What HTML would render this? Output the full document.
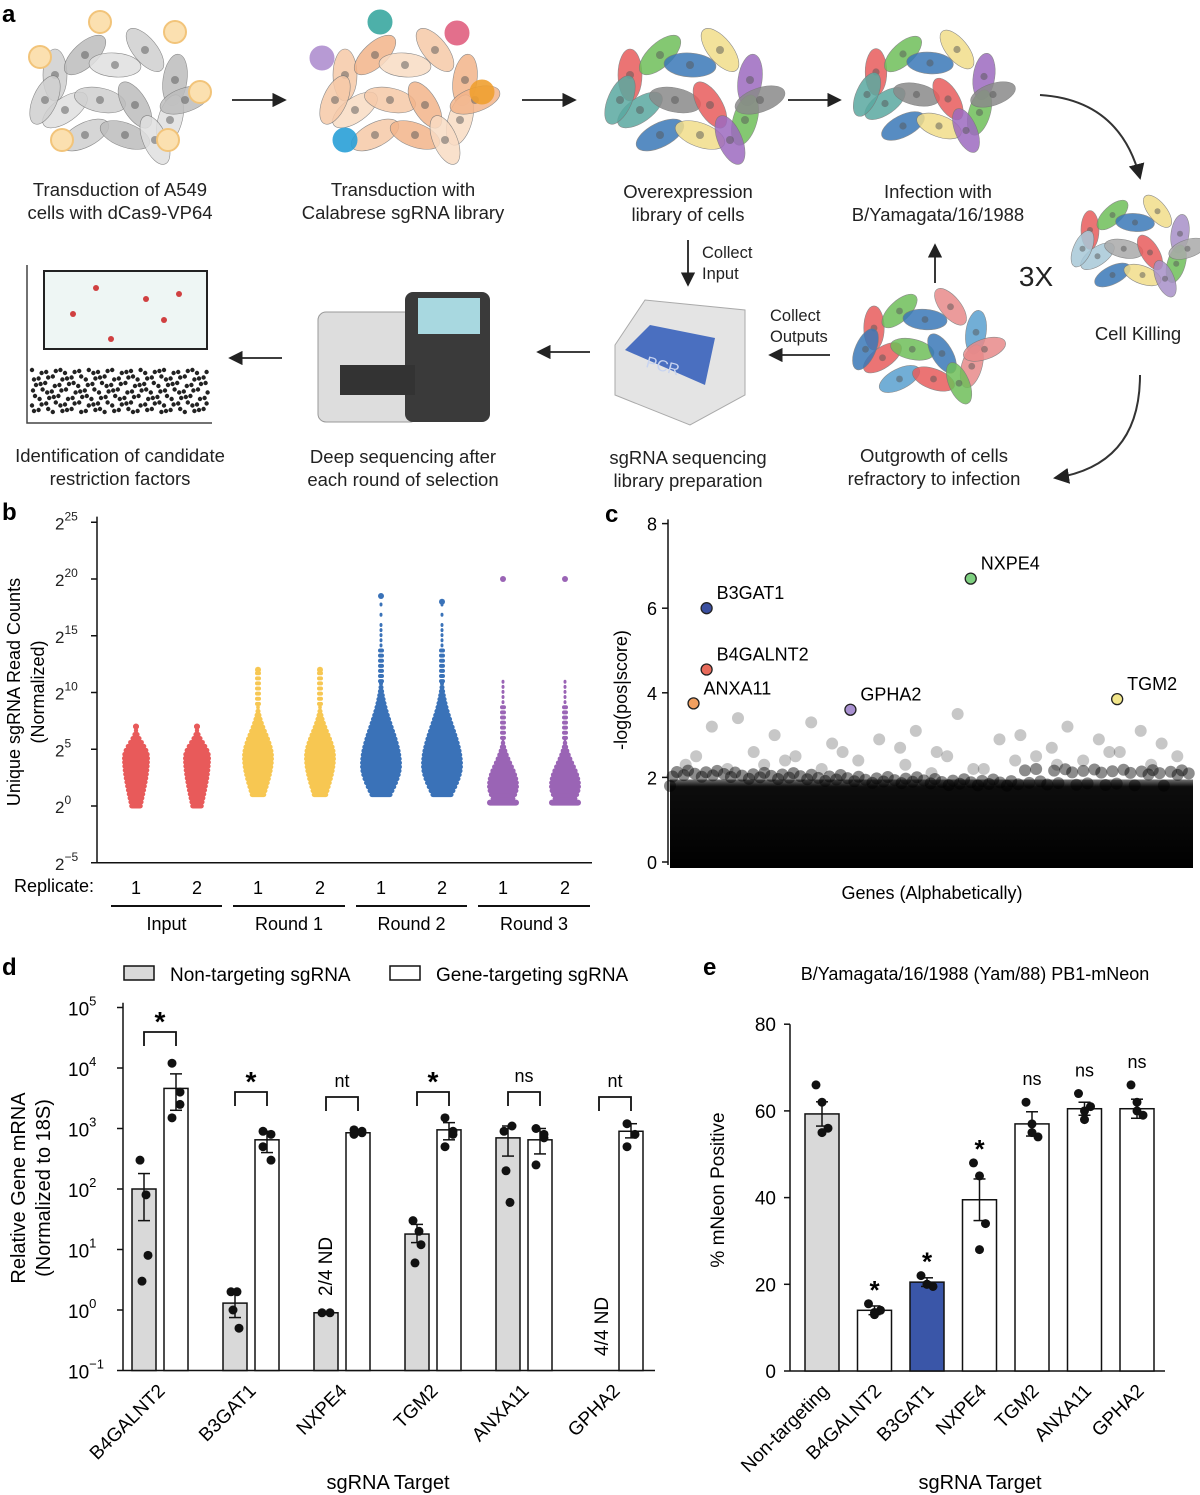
<!DOCTYPE html>
<html><head><meta charset="utf-8">
<style>
body{margin:0;background:#fff;}
svg{display:block;font-family:"Liberation Sans",Arial,sans-serif;}
</style></head>
<body>
<svg id="fig" width="1200" height="1495" viewBox="0 0 1200 1495" xmlns="http://www.w3.org/2000/svg">
<defs>
<marker id="ah" markerWidth="8" markerHeight="8" refX="7" refY="4" orient="auto"><path d="M0,0 L8,4 L0,8 z" fill="#222"/></marker>
<linearGradient id="band" x1="0" y1="0" x2="0" y2="1"><stop offset="0" stop-color="#000" stop-opacity="0.55"/><stop offset="0.08" stop-color="#000" stop-opacity="0.95"/><stop offset="1" stop-color="#000"/></linearGradient>
</defs>
<g id="panelA"></g>
<g id="panelB"></g>
<g id="panelC"></g>
<g id="panelD"></g>
<g id="panelE"></g>
</svg>
<script>
const NS="http://www.w3.org/2000/svg";
function mk(p,tag,a,txt){const e=document.createElementNS(NS,tag);for(const k in a)e.setAttribute(k,a[k]);if(txt!==undefined)e.textContent=txt;p.appendChild(e);return e;}

/* ---------- Panel A ---------- */
const A=document.getElementById('panelA');
let t=mk(A,'text',{x:2,y:22,'font-size':24,'font-weight':'bold'},'a');


function cluster(cx,cy,cols,r){
  const g=mk(A,'g',{});
  
  
  const offs=[[-60,-20],[-30,-40],[0,-30],[30,-45],[60,-15],[-50,15],[-15,5],[20,10],[55,25],[-30,40],[10,40],[40,45],[-70,5],[70,5]];
  offs.forEach((o,i)=>{const c=cols[i%cols.length];mk(g,'ellipse',{cx:cx+o[0]*r,cy:cy+o[1]*r,rx:26*r,ry:12*r,fill:c,opacity:0.85,stroke:'#777','stroke-width':0.6,transform:`rotate(${(i*47)%180-90} ${cx+o[0]*r} ${cy+o[1]*r})`});
  mk(g,'circle',{cx:cx+o[0]*r,cy:cy+o[1]*r,r:4*r,fill:'#555',opacity:0.5});});
}
cluster(115,95,['#cfcfcf','#bdbdbd','#e0e0e0'],1);
cluster(405,95,['#f6c9a8','#f3b48a','#f9dcc4'],1);
cluster(690,95,['#e85c5c','#6fbf5a','#3a78b8','#f2dd8a','#9d6ac0','#5aa9a0','#8a8a8a'],1);
cluster(930,90,['#e85c5c','#6fbf5a','#3a78b8','#f2dd8a','#9d6ac0','#5aa9a0','#8a8a8a'],0.9);
cluster(1135,245,['#e85c5c','#6fbf5a','#3a78b8','#f2dd8a','#a890c8','#a8c8d8','#aaa'],0.75);
cluster(925,345,['#e85c5c','#6fbf5a','#3a78b8','#e88a8a','#5aa0d0'],0.85);
[[40,57],[100,22],[175,32],[200,92],[62,140],[168,140]].forEach(p=>mk(A,'circle',{cx:p[0],cy:p[1],r:11,fill:'#fbe0b0',stroke:'#f2c47a','stroke-width':2}));
[[380,22,'#3aa8a0'],[457,33,'#e06080'],[322,58,'#b090d0'],[482,92,'#f0a030'],[345,140,'#2aa0d8']].forEach(p=>mk(A,'circle',{cx:p[0],cy:p[1],r:11,fill:p[2],stroke:p[2],'stroke-width':3,opacity:0.9}));
[[232,100,285,100],[522,100,575,100],[788,100,840,100],[688,240,688,285],[935,283,935,245],[830,355,770,355],[590,352,538,352],[282,358,230,358]].forEach(a=>mk(A,'line',{x1:a[0],y1:a[1],x2:a[2],y2:a[3],stroke:'#222','stroke-width':1.8,'marker-end':'url(#ah)'}));
mk(A,'path',{d:'M1040,95 Q1120,100 1140,178',fill:'none',stroke:'#333','stroke-width':2,'marker-end':'url(#ah)'});
mk(A,'path',{d:'M1140,375 Q1140,465 1055,478',fill:'none',stroke:'#333','stroke-width':2,'marker-end':'url(#ah)'});
mk(A,'rect',{x:44,y:271,width:163,height:78,fill:'#eef6f4',stroke:'#222','stroke-width':2});
mk(A,'polyline',{points:'27,265 27,423 212,423',fill:'none',stroke:'#444','stroke-width':1.5});
[[96,288],[146,299],[179,294],[73,314],[164,320],[111,339]].forEach(p=>mk(A,'circle',{cx:p[0],cy:p[1],r:3,fill:'#d04040'}));
for(let r=0;r<7;r++)for(let c=0;c<27;c++)mk(A,'circle',{cx:34+c*6.6+((r*37+c*13)%5)-2,cy:372+r*6.5+((c*7+r*3)%4)-2,r:2.2,fill:'#222'});
mk(A,'rect',{x:318,y:312,width:100,height:110,rx:8,fill:'#ddd',stroke:'#999'});
mk(A,'rect',{x:405,y:292,width:85,height:130,rx:8,fill:'#3a3a3a'});
mk(A,'rect',{x:418,y:298,width:62,height:36,fill:'#a8d8e0'});
mk(A,'rect',{x:340,y:365,width:75,height:30,fill:'#333'});
mk(A,'path',{d:'M615,345 L645,300 L745,310 L745,395 L690,425 L615,395 z',fill:'#e4e4e4',stroke:'#aaa'});
mk(A,'path',{d:'M625,350 L650,325 L715,338 L705,385 z',fill:'#4a6fc0'});
mk(A,'text',{x:645,y:372,'font-size':16,fill:'#c8d4f0',transform:'rotate(15 665 370)'},'PCR');
const al=[[120,196,'Transduction of A549'],[120,219,'cells with dCas9-VP64'],[403,196,'Transduction with'],[403,219,'Calabrese sgRNA library'],[688,198,'Overexpression'],[688,221,'library of cells'],[938,198,'Infection with'],[938,221,'B/Yamagata/16/1988'],[1138,340,'Cell Killing'],[120,462,'Identification of candidate'],[120,485,'restriction factors'],[403,463,'Deep sequencing after'],[403,486,'each round of selection'],[688,464,'sgRNA sequencing'],[688,487,'library preparation'],[934,462,'Outgrowth of cells'],[934,485,'refractory to infection']];
al.forEach(l=>{const e=mk(A,'text',{x:l[0],y:l[1],'font-size':18.5,'text-anchor':'middle',fill:'#222'},l[2]);});
[[702,258,'Collect'],[702,279,'Input'],[770,321,'Collect'],[770,342,'Outputs']].forEach(l=>mk(A,'text',{x:l[0],y:l[1],'font-size':16.5,fill:'#222'},l[2]));
mk(A,'text',{x:1036,y:286,'font-size':28,'text-anchor':'middle',fill:'#222'},'3X');

/* ---------- Panel B ---------- */
const sampleX=[136,197,258,320,381,442,503,565];
const sampleColor=['#e85a5a','#e85a5a','#f7c752','#f7c752','#3a72b8','#3a72b8','#9a64b5','#9a64b5'];
const sampleMedian=[4.3,4.3,4.3,4.3,3.6,3.6,1.8,1.8];
const sampleMin=[0,0,1,1,1,1,0.3,0.3];
const sampleBodyTop=[7,7,9,9,11,11,6,6];
const sampleMax=[7,7,12,12,18.5,18,20,20];
const sampleHalfWidth=[14,14,16,16,21,21,16,16];
const bTicks=[25,20,15,10,5,0,-5];
const B=document.getElementById('panelB');
const by=v=>806-(v)*11.35;
t=mk(B,'text',{x:2,y:520,'font-size':24,'font-weight':'bold'},'b');

mk(B,'line',{x1:97,y1:by(25.5),x2:97,y2:by(-5),stroke:'#111','stroke-width':1.5});
mk(B,'line',{x1:97,y1:by(-5),x2:592,y2:by(-5),stroke:'#111','stroke-width':1.5});
bTicks.forEach(v=>{mk(B,'line',{x1:91,y1:by(v),x2:97,y2:by(v),stroke:'#111','stroke-width':1.5});
 const e=mk(B,'text',{x:55,y:by(v)+7,'font-size':17,fill:'#222'});
 e.appendChild(document.createTextNode('2'));mk(e,'tspan',{dy:-9,'font-size':12},String(v).replace('-','\u2212'));});
t=mk(B,'text',{x:0,y:0,'font-size':18,'text-anchor':'middle',transform:'translate(20,692) rotate(-90)'},'Unique sgRNA  Read Counts');

mk(B,'text',{x:0,y:0,'font-size':18,'text-anchor':'middle',transform:'translate(44,692) rotate(-90)'},'(Normalized)');
sampleX.forEach((x,i)=>{
  const g=mk(B,'g',{});
  
  
  const c=sampleColor[i],m=sampleMedian[i],w=sampleHalfWidth[i];
  for(let v=sampleMin[i];v<=sampleBodyTop[i];v+=0.35){
    const d=(v-m)/(v<m?(m-sampleMin[i]+0.8)*0.7:(sampleBodyTop[i]-m)*0.45);
    const hw=Math.max(1.5,w*Math.exp(-d*d/2));
    mk(g,'rect',{x:x-hw,y:by(v)-2.5,width:2*hw,height:5,rx:2.5,fill:c});
  }
  if(i>=6)mk(g,'rect',{x:x-w,y:by(sampleMin[i])-3,width:2*w,height:6,rx:3,fill:c});
  for(let v=sampleBodyTop[i];v<=sampleMax[i];v+=0.45){const hw=v<sampleBodyTop[i]+3?3:1.5;
    if(v>sampleBodyTop[i]+5&&((v*10)|0)%3)continue; mk(g,'rect',{x:x-hw,y:by(v)-2,width:2*hw,height:4,rx:2,fill:c});}
  mk(g,'circle',{cx:x,cy:by(sampleMax[i]),r:3,fill:c});
  const e=mk(B,'text',{x:x,y:894,'font-size':18,'text-anchor':'middle'},String(i%2+1));
  
});
mk(B,'text',{x:14,y:892,'font-size':18},'Replicate:');
['Input','Round 1','Round 2','Round 3'].forEach((n,k)=>{const x1=sampleX[2*k]-25,x2=sampleX[2*k+1]+25;
 mk(B,'line',{x1:x1,y1:906,x2:x2,y2:906,stroke:'#111','stroke-width':2});
 const e=mk(B,'text',{x:(x1+x2)/2,y:930,'font-size':18,'text-anchor':'middle'},n);});

/* ---------- Panel C ---------- */
const labeledGenes=['B3GAT1','B4GALNT2','ANXA11','GPHA2','NXPE4','TGM2'];
const labeledScores=[6.0,4.55,3.75,3.6,6.7,3.85];
const labeledRank=[0.07,0.07,0.045,0.345,0.575,0.855];
const labeledColors=['#3a4fa0','#e86a5a','#f2a060','#a890d0','#7ed080','#f2e68a'];
const bgRank=[0.03,0.08,0.13,0.16,0.2,0.24,0.27,0.31,0.36,0.4,0.44,0.47,0.51,0.55,0.6,0.63,0.67,0.7,0.73,0.76,0.79,0.82,0.86,0.9,0.94,0.97,0.11,0.22,0.33,0.45,0.53,0.58,0.66,0.74,0.84,0.92,0.05,0.18,0.29,0.5];
const bgScore=[2.3,3.2,3.4,2.6,3.0,2.5,3.3,2.8,2.4,2.9,2.7,3.1,2.6,3.5,2.2,2.9,3.0,2.5,2.7,3.2,2.4,2.9,2.6,3.1,2.8,2.5,2.2,2.4,2.6,2.3,2.5,2.2,2.4,2.3,2.6,2.3,2.5,2.3,2.2,2.1];
const cTicks=[0,2,4,6,8];
const C=document.getElementById('panelC');
const cx0=670,cx1=1193,cy=v=>862-v*42.3,cxp=r=>cx0+r*(cx1-cx0);
t=mk(C,'text',{x:605,y:522,'font-size':24,'font-weight':'bold'},'c');

mk(C,'rect',{x:cx0,y:cy(1.95),width:cx1-cx0,height:cy(0)-cy(1.95)+6,fill:'url(#band)'});
for(let k=0;k<90;k++){const r=(k*0.6180339)%1;const s=1.8+((k*0.377)%1)*0.4;mk(C,'circle',{cx:cxp(r),cy:cy(s),r:6,fill:'#000',opacity:0.45});}
bgRank.forEach((r,i)=>{const e=mk(C,'circle',{cx:cxp(r),cy:cy(bgScore[i]),r:6,fill:'#000',opacity:0.22});});
mk(C,'line',{x1:668,y1:cy(8.1),x2:668,y2:cy(0)+3,stroke:'#111','stroke-width':1.5});
cTicks.forEach(v=>{mk(C,'line',{x1:662,y1:cy(v),x2:668,y2:cy(v),stroke:'#111','stroke-width':1.5});
 const e=mk(C,'text',{x:652,y:cy(v)+7,'font-size':18,'text-anchor':'middle'},String(v));});
t=mk(C,'text',{x:0,y:0,'font-size':18,'text-anchor':'middle',transform:'translate(627,690) rotate(-90)'},'-log(pos|score)');

t=mk(C,'text',{x:932,y:899,'font-size':18,'text-anchor':'middle'},'Genes (Alphabetically)');

labeledGenes.forEach((g,i)=>{const x=cxp(labeledRank[i]),y=cy(labeledScores[i]);
 const e=mk(C,'circle',{cx:x,cy:y,r:5.5,fill:labeledColors[i],stroke:'#222','stroke-width':1.3});
 const l=mk(C,'text',{x:x+10,y:y-9,'font-size':18},g);});

/* ---------- Panel D ---------- */
const dGenes=['B4GALNT2','B3GAT1','NXPE4','TGM2','ANXA11','GPHA2'];
const dNonTarget=[100,1.3,0.9,18,700,null];
const dNonErr=[[30,180],[0.75,2.1],[0.9,0.9],[13,26],[350,1100],null];
const dTarget=[4600,650,850,950,650,900];
const dTargetErr=[[2000,8000],[400,900],[800,900],[650,1250],[380,1000],[700,1200]];
const dNonPts=[[300,8,3,80],[2,0.5,1,2],[0.9,0.9],[30,12,6,20],[900,1100,200,60],[]];
const dTgtPts=[[12000,4000,1500,2500],[900,800,500,300],[950,900,800,850],[1500,800,500,900],[1000,700,250,800],[1200,800,500]];
const dSig=['*','*','nt','*','ns','nt'];
const dTicks=[5,4,3,2,1,0,-1];
const D=document.getElementById('panelD');
const dy=v=>1310-Math.log10(v)*60.5;
const dcx=i=>160+i*91;
t=mk(D,'text',{x:2,y:975,'font-size':24,'font-weight':'bold'},'d');

let lg=mk(D,'g',{});
mk(lg,'rect',{x:124,y:966,width:30,height:14,fill:'#d9d9d9',stroke:'#111','stroke-width':1.5});
mk(lg,'text',{x:170,y:981,'font-size':19},'Non-targeting sgRNA');
mk(lg,'rect',{x:390,y:966,width:30,height:14,fill:'#fff',stroke:'#111','stroke-width':1.5});
mk(lg,'text',{x:436,y:981,'font-size':19},'Gene-targeting sgRNA');
mk(D,'line',{x1:123,y1:dy(1.2e5),x2:123,y2:dy(0.1),stroke:'#111','stroke-width':1.5});
mk(D,'line',{x1:123,y1:dy(0.1),x2:655,y2:dy(0.1),stroke:'#111','stroke-width':1.5});
dTicks.forEach(p=>{mk(D,'line',{x1:117,y1:dy(Math.pow(10,p)),x2:123,y2:dy(Math.pow(10,p)),stroke:'#111','stroke-width':1.5});
 const e=mk(D,'text',{x:68,y:dy(Math.pow(10,p))+8,'font-size':19});
 e.appendChild(document.createTextNode('10'));mk(e,'tspan',{dy:-10,'font-size':13},String(p).replace('-','\u2212'));});
t=mk(D,'text',{x:0,y:0,'font-size':20,'text-anchor':'middle',transform:'translate(25,1188) rotate(-90)'},'Relative Gene mRNA');

mk(D,'text',{x:0,y:0,'font-size':20,'text-anchor':'middle',transform:'translate(50,1188) rotate(-90)'},'(Normalized to 18S)');
function errbar(g,x,lo,hi,f){mk(g,'line',{x1:x,y1:f(lo),x2:x,y2:f(hi),stroke:'#111','stroke-width':1.5});[lo,hi].forEach(v=>mk(g,'line',{x1:x-6,y1:f(v),x2:x+6,y2:f(v),stroke:'#111','stroke-width':1.5}));}
dGenes.forEach((g,i)=>{const c=dcx(i),xa=c-16,xb=c+16;
 const gg=mk(D,'g',{});
 if(dNonTarget[i]!==null){const b=mk(gg,'rect',{x:xa-12,y:dy(dNonTarget[i]),width:24,height:dy(0.1)-dy(dNonTarget[i]),fill:'#d9d9d9',stroke:'#111','stroke-width':1.5});
  
  errbar(gg,xa,dNonErr[i][0],dNonErr[i][1],dy);
  dNonPts[i].forEach((v,k)=>mk(gg,'circle',{cx:xa+(k%2?4:-4)*(k>1?0.5:1),cy:dy(v),r:4.5,fill:'#111'}));}
 const b2=mk(gg,'rect',{x:xb-12,y:dy(dTarget[i]),width:24,height:dy(0.1)-dy(dTarget[i]),fill:'#fff',stroke:'#111','stroke-width':1.5});
 
 errbar(gg,xb,dTargetErr[i][0],dTargetErr[i][1],dy);
 dTgtPts[i].forEach((v,k)=>mk(gg,'circle',{cx:xb+(k%2?4:-4),cy:dy(v),r:4.5,fill:'#111'}));
 const ybr=i===0?1032:(i===2||i===5?1097:1092);
 mk(gg,'polyline',{points:`${xa},${ybr+14} ${xa},${ybr} ${xb},${ybr} ${xb},${ybr+14}`,fill:'none',stroke:'#111','stroke-width':1.8});
 const s=dSig[i];
 mk(gg,'text',{x:c,y:s==='*'?ybr-1:ybr-10,'font-size':s==='*'?28:18,'font-weight':s==='*'?'bold':'normal','text-anchor':'middle'},s);
 const l=mk(D,'text',{x:0,y:0,'font-size':19,'text-anchor':'end',transform:`translate(${c+6},1392) rotate(-45)`},g);
 });
mk(D,'text',{x:0,y:0,'font-size':19,transform:'translate(332,1296) rotate(-90)'},'2/4 ND');
mk(D,'text',{x:0,y:0,'font-size':19,transform:'translate(608,1356) rotate(-90)'},'4/4 ND');
t=mk(D,'text',{x:388,y:1489,'font-size':20,'text-anchor':'middle'},'sgRNA Target');


/* ---------- Panel E ---------- */
const eCats=['Non-targeting','B4GALNT2','B3GAT1','NXPE4','TGM2','ANXA11','GPHA2'];
const eVals=[59.3,14,20.5,39.5,57,60.5,60.5];
const eErr=[2.8,1.0,1.0,4.8,2.8,1.5,2.2];
const ePts=[[66,62,56,55],[15.5,13,14,13.5],[22,20,19.5,20],[48,45,34,28],[62,57,54,55],[64,58,61,60],[66,62,59,60]];
const eSig=['','*','*','*','ns','ns','ns'];
const eFill=['#d9d9d9','#fff','#3a56a8','#fff','#fff','#fff','#fff'];
const eTicks=[0,20,40,60,80];
const E=document.getElementById('panelE');
const ey=v=>1371-v*4.335;
const ex=i=>822+i*52.5;
t=mk(E,'text',{x:703,y:975,'font-size':24,'font-weight':'bold'},'e');

t=mk(E,'text',{x:975,y:980,'font-size':18,'text-anchor':'middle'},'B/Yamagata/16/1988 (Yam/88) PB1-mNeon');

mk(E,'line',{x1:790,y1:ey(80),x2:790,y2:ey(0),stroke:'#111','stroke-width':1.5});
mk(E,'line',{x1:790,y1:ey(0),x2:1165,y2:ey(0),stroke:'#111','stroke-width':1.5});
eTicks.forEach(v=>{mk(E,'line',{x1:784,y1:ey(v),x2:790,y2:ey(v),stroke:'#111','stroke-width':1.5});
 const e=mk(E,'text',{x:776,y:ey(v)+7,'font-size':19,'text-anchor':'end'},String(v));});
t=mk(E,'text',{x:0,y:0,'font-size':19,'text-anchor':'middle',transform:'translate(724,1190) rotate(-90)'},'% mNeon Positive');

eCats.forEach((c,i)=>{const x=ex(i);
 const b=mk(E,'rect',{x:x-17,y:ey(eVals[i]),width:34,height:ey(0)-ey(eVals[i]),fill:eFill[i],stroke:'#111','stroke-width':1.5});
 
 errbar(E,x,eVals[i]-eErr[i],eVals[i]+eErr[i],ey);
 ePts[i].forEach((v,k)=>mk(E,'circle',{cx:x+[-6,0,6,0][k],cy:ey(v),r:4.5,fill:'#111'}));
 const top=Math.max(...ePts[i],eVals[i]+eErr[i]);
 if(eSig[i]==='*')mk(E,'text',{x:x,y:ey(top)-5,'font-size':26,'font-weight':'bold','text-anchor':'middle'},'*');
 else if(eSig[i])mk(E,'text',{x:x,y:ey(top)-17,'font-size':18,'text-anchor':'middle'},eSig[i]);
 const l=mk(E,'text',{x:0,y:0,'font-size':19,'text-anchor':'end',transform:`translate(${x+8},1392) rotate(-45)`},c);
 });
t=mk(E,'text',{x:980,y:1489,'font-size':20,'text-anchor':'middle'},'sgRNA Target');

</script>
</body></html>
